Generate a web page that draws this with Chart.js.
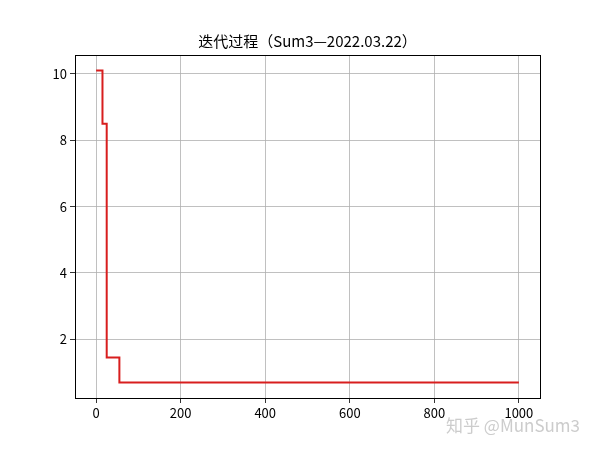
<!DOCTYPE html>
<html><head><meta charset="utf-8">
<script src="https://cdn.jsdelivr.net/npm/chart.js@4/dist/chart.umd.min.js"></script>
<style>html,body{margin:0;padding:0;background:#fff}</style>
</head><body>
<canvas id="c" width="600" height="450"></canvas>
<script>
const titleText = '迭代过程（Sum3—2022.03.22）';
const watermark = '知乎 @MunSum3';
const iterX = [0, 15, 25, 55, 1000];
const bestY = [10.1, 8.5, 1.45, 0.7, 0.7];
const xTicks = [0, 200, 400, 600, 800, 1000];
const yTicks = [2, 4, 6, 8, 10];

const FONT = '"Noto Sans CJK SC", "DejaVu Sans", sans-serif';

const framePlugin = {
  id: 'frame',
  afterDraw(chart) {
    const {ctx, chartArea: a} = chart;
    ctx.save();
    ctx.strokeStyle = '#000';
    ctx.lineWidth = 1;
    ctx.strokeRect(Math.round(a.left) + 0.5, Math.round(a.top) + 0.5, Math.round(a.right - a.left), Math.round(a.bottom - a.top));
    ctx.fillStyle = '#000';
    ctx.font = '15px ' + FONT;
    ctx.textAlign = 'center';
    ctx.textBaseline = 'middle';
    ctx.fillText(titleText, (a.left + a.right) / 2, 41);
    ctx.fillStyle = 'rgba(195,195,195,0.85)';
    ctx.font = '17px ' + FONT;
    ctx.textAlign = 'left';
    ctx.fillText(watermark, 446, 426);
    ctx.restore();
  }
};

new Chart(document.getElementById('c'), {
  type: 'line',
  data: {
    datasets: [{
      data: iterX.map((x, i) => ({x, y: bestY[i]})),
      borderColor: '#d81e1e',
      borderWidth: 2,
      pointRadius: 0,
      stepped: 'before',
      fill: false
    }]
  },
  options: {
    responsive: false,
    animation: false,
    devicePixelRatio: 1,
    layout: {padding: {left: 0, right: 60, top: 55, bottom: 0}},
    plugins: {legend: {display: false}, title: {display: false}, tooltip: {enabled: false}},
    scales: {
      x: {
        type: 'linear', min: -50, max: 1050,
        afterBuildTicks: s => { s.ticks = xTicks.map(v => ({value: v})); },
        afterFit: s => { s.height = 52; },
        grid: {color: '#b0b0b0', lineWidth: 0.8, tickColor: '#000', tickLength: 5},
        border: {display: true, color: '#000', width: 1},
        ticks: {color: '#000', font: {family: FONT, size: 13}, padding: 2, maxRotation: 0, callback: v => String(v)}
      },
      y: {
        type: 'linear', min: 0.23, max: 10.57,
        afterBuildTicks: s => { s.ticks = yTicks.map(v => ({value: v})); },
        afterFit: s => { s.width = 75; },
        grid: {color: '#b0b0b0', lineWidth: 0.8, tickColor: '#000', tickLength: 5},
        border: {display: true, color: '#000', width: 1},
        ticks: {color: '#000', font: {family: FONT, size: 13}, padding: 3, callback: v => String(v)}
      }
    }
  },
  plugins: [framePlugin]
});
</script>
</body></html>
